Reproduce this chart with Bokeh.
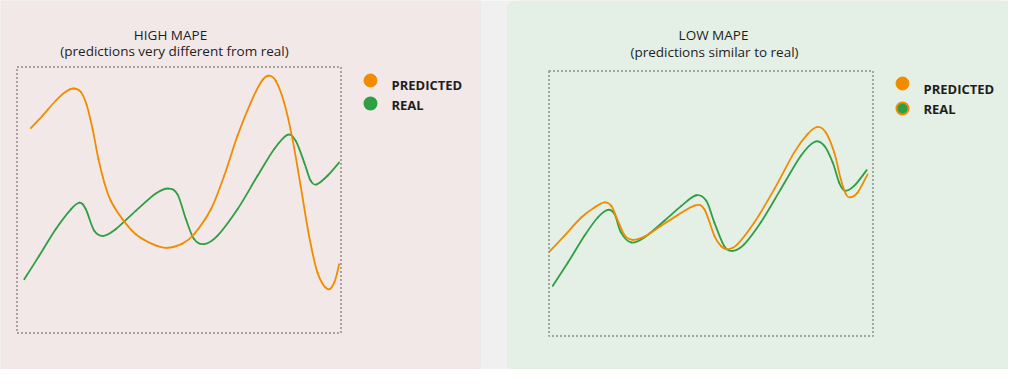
from bokeh.plotting import figure
from bokeh.models import Range1d, BoxAnnotation
from bokeh.core.properties import value
from bokeh.embed import file_html
from bokeh.resources import INLINE

# ---------------- data (time 0..100, value 0..100 inside each plot box) ----------------
high_pred_x = [4.4, 8.0, 12.1, 15.2, 17.6, 19.8, 21.6, 23.5, 25.3, 27.1, 29.1, 32.7, 36.8, 42.0,
               46.3, 51.2, 54.8, 60.0, 64.1, 68.2, 72.3, 75.4, 77.7, 80.0, 82.6, 85.2, 87.7,
               90.3, 92.9, 96.0, 98.1, 99.6]
high_pred_y = [77.2, 81.8, 87.5, 90.9, 92.1, 90.9, 86.2, 76.8, 65.5, 56.8, 49.9, 43.0, 37.3, 33.6,
               32.2, 33.8, 37.3, 46.7, 59.3, 74.3, 86.8, 94.4, 96.9, 95.0, 86.8, 73.0, 55.5,
               36.7, 22.9, 16.7, 19.2, 26.1]
high_real_x = [2.4, 7.0, 12.1, 16.8, 19.5, 21.4, 24.0, 26.8, 30.6, 36.8, 43.0, 46.9, 49.7, 52.3,
               54.8, 57.9, 62.0, 68.2, 74.4, 79.5, 83.6, 86.2, 88.8, 90.8, 92.7, 96.0, 99.6]
high_real_y = [20.4, 29.2, 39.2, 46.7, 49.2, 46.7, 38.6, 36.7, 39.2, 46.1, 52.6, 54.5, 52.3, 43.0,
               35.5, 33.6, 36.7, 46.7, 59.3, 69.3, 74.7, 72.4, 64.3, 57.4, 56.1, 59.3, 64.3]

low_pred_x = [0.3, 4.9, 10.1, 14.2, 17.3, 19.4, 21.2, 23.5, 26.0, 29.6, 34.8, 39.9, 45.3, 48.1,
              51.2, 53.2, 55.2, 58.3, 63.5, 69.7, 75.8, 79.9, 83.0, 85.6, 88.2, 90.2, 91.8,
              93.1, 95.4, 98.5]
low_pred_y = [32.0, 38.0, 44.9, 48.7, 50.6, 49.3, 44.3, 38.2, 36.5, 37.7, 41.8, 45.8, 49.5, 48.0,
              38.0, 34.2, 32.9, 34.8, 43.0, 55.6, 69.4, 76.3, 79.1, 77.0, 69.4, 59.4, 53.7,
              52.5, 54.3, 61.2]
low_real_x = [1.3, 6.0, 11.1, 15.2, 18.3, 20.4, 22.4, 25.5, 29.6, 35.8, 41.0, 45.6, 48.7, 51.2,
              54.2, 56.8, 60.4, 65.5, 71.7, 77.9, 82.2, 85.1, 87.7, 89.7, 91.5, 94.4, 98.2]
low_real_y = [19.1, 27.9, 38.0, 44.9, 47.8, 46.2, 39.2, 35.5, 37.4, 43.7, 49.3, 53.3, 51.2, 43.0,
              34.2, 32.3, 34.8, 43.0, 55.6, 68.2, 73.5, 72.0, 65.7, 58.1, 55.0, 56.9, 62.8]

titles = ["HIGH MAPE", "LOW MAPE"]
subtitles = ["(predictions very different from real)", "(predictions similar to real)"]
legend_labels = ["PREDICTED", "REAL"]

# ---------------- styling ----------------
ORANGE = "#f08c00"
GREEN = "#2f9e44"
INK = "#1e1e1e"
PAGE_BG = "#f0f0f0"
FONT = "Open Sans"

W, H = 1008, 369
PX0, PY0 = 8, 8          # page offset of the canvas
PX1, PY1 = PX0 + W, PY0 + H


def Y(py):
    """page y (downwards) -> plot y (upwards)"""
    return 385 - py


def smooth_segments(xs, ys):
    """Catmull-Rom curve through the data points, expressed as cubic Bezier segments."""
    n = len(xs)
    seg = dict(x0=[], y0=[], x1=[], y1=[], cx0=[], cy0=[], cx1=[], cy1=[])
    for k in range(n - 1):
        a = max(k - 1, 0)
        d = min(k + 2, n - 1)
        seg["x0"].append(xs[k]); seg["y0"].append(ys[k])
        seg["x1"].append(xs[k + 1]); seg["y1"].append(ys[k + 1])
        seg["cx0"].append(xs[k] + (xs[k + 1] - xs[a]) / 6.0)
        seg["cy0"].append(ys[k] + (ys[k + 1] - ys[a]) / 6.0)
        seg["cx1"].append(xs[k + 1] - (xs[d] - xs[k]) / 6.0)
        seg["cy1"].append(ys[k + 1] - (ys[d] - ys[k]) / 6.0)
    return seg


p = figure(width=W, height=H, output_backend="svg", toolbar_location=None,
           x_range=Range1d(PX0, PX1), y_range=Range1d(Y(PY1), Y(PY0)),
           x_axis_type=None, y_axis_type=None, min_border=0,
           background_fill_color=PAGE_BG, border_fill_color=PAGE_BG,
           outline_line_color=None)
p.grid.visible = False

panels = [
    dict(l=4, r=488, t=3, b=381, fill="#f2e8e7",
         box=(24, 348, 75, 341), title=(178, 42), sub=(182, 58),
         leg_c=(378, 88, 111), leg_t=(399, 92, 112), real_outline=GREEN,
         px=high_pred_x, py=high_pred_y, rx=high_real_x, ry=high_real_y),
    dict(l=515, r=1020, t=8, b=381, fill="#e4efe5",
         box=(556, 880, 79, 344), title=(721, 42), sub=(722, 59),
         leg_c=(910, 91, 116), leg_t=(931, 96, 116), real_outline=ORANGE,
         px=low_pred_x, py=low_pred_y, rx=low_real_x, ry=low_real_y),
]

SNAP = 0.5  # pixel snapping for the dotted frame

for i, pn in enumerate(panels):
    p.add_layout(BoxAnnotation(left=pn["l"], right=pn["r"], top=Y(pn["t"]), bottom=Y(pn["b"]),
                               fill_color=pn["fill"], fill_alpha=1.0,
                               line_color="#e2e2e2", line_width=1, border_radius=9,
                               level="underlay"))
    bl, br, bt, bb = pn["box"]
    p.add_layout(BoxAnnotation(left=bl + SNAP, right=br + SNAP, top=Y(bt) + SNAP,
                               bottom=Y(bb) + SNAP,
                               fill_alpha=0, line_color="#000000", line_width=2,
                               line_dash="2 2", level="underlay"))

    # data ranges: value 0..100 spans the dotted box
    sx = 100.0 / (br - bl)
    sy = 100.0 / (bb - bt)
    xr, yr = f"x{i}", f"y{i}"
    p.extra_x_ranges[xr] = Range1d(-(bl - PX0) * sx, 100 + (PX1 - br) * sx)
    p.extra_y_ranges[yr] = Range1d(-(PY1 - bb) * sy, 100 + (bt - PY0) * sy)

    for xs, ys, col in ((pn["rx"], pn["ry"], GREEN), (pn["px"], pn["py"], ORANGE)):
        seg = smooth_segments(xs, ys)
        p.bezier(x0=seg["x0"], y0=seg["y0"], x1=seg["x1"], y1=seg["y1"],
                 cx0=seg["cx0"], cy0=seg["cy0"], cx1=seg["cx1"], cy1=seg["cy1"],
                 line_color=col, line_width=1.8, line_cap="round",
                 x_range_name=xr, y_range_name=yr)

    # titles
    p.text(x=[pn["title"][0]], y=[Y(pn["title"][1])], text=[titles[i]],
           text_font=value(FONT), text_font_size="13.5px", text_color=INK,
           text_align="center", text_baseline="middle")
    p.text(x=[pn["sub"][0]], y=[Y(pn["sub"][1])], text=[subtitles[i]],
           text_font=value(FONT), text_font_size="13.5px", text_color=INK,
           text_align="center", text_baseline="middle")

    # legend
    cx, cy1, cy2 = pn["leg_c"]
    tx, ty1, ty2 = pn["leg_t"]
    p.scatter(x=[cx], y=[Y(cy1)], size=13, fill_color=ORANGE, line_color=ORANGE, line_width=1)
    p.scatter(x=[cx], y=[Y(cy2)], size=12, fill_color=GREEN, line_color=pn["real_outline"],
              line_width=2)
    p.text(x=[tx, tx], y=[Y(ty1), Y(ty2)], text=legend_labels,
           text_font=value(FONT), text_font_size="13px", text_font_style="bold",
           text_color=INK, text_align="left", text_baseline="middle")

open("out.html", "w").write(file_html(p, INLINE))
